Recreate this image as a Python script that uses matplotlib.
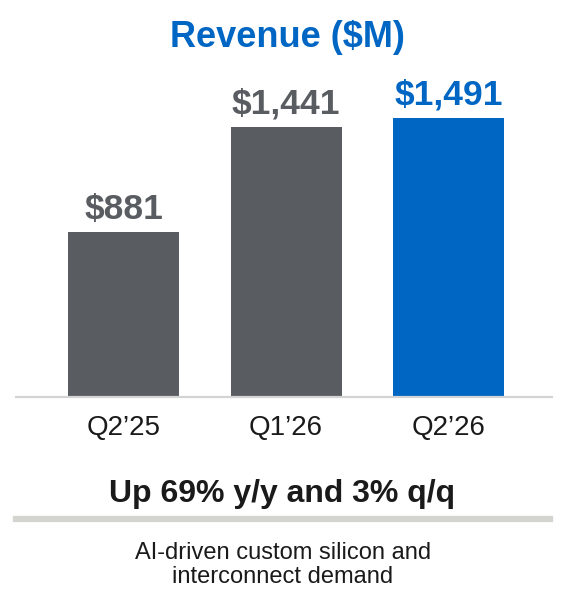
"""Revenue bar chart, three quarters, last one highlighted."""

import matplotlib
matplotlib.use('Agg')
import matplotlib.pyplot as plt

plt.rcParams['font.family'] = ['Liberation Sans', 'DejaVu Sans']

quarters = ["Q2\u201925", "Q1\u201926", "Q2\u201926"]
revenue = [881, 1441, 1491]
value_labels = ["$881", "$1,441", "$1,491"]

GRAY = '#595c60'
BLUE = '#0066c4'
TEXT = '#1a1a1a'
colors = [GRAY, GRAY, BLUE]

W, H = 568, 595
fig = plt.figure(figsize=(W / 100, H / 100), dpi=100, facecolor='white')

# axes spans from the baseline rule (y=397px) up to y=60px
ax = fig.add_axes([16 / W, 1 - 397 / H, 536 / W, 337 / H])
ax.bar(range(len(revenue)), revenue, width=0.683, color=colors, zorder=2)
ax.set_xlim(-0.662, 2.637)
ax.set_ylim(0, 337 / 0.1873)

for i, (v, lab) in enumerate(zip(revenue, value_labels)):
    ax.annotate(lab, (i, v), xytext=(0, 9.5), textcoords='offset points',
                ha='center', va='baseline', fontsize=25.5, fontweight='bold',
                color=colors[i])

ax.set_xticks(range(len(quarters)))
ax.set_xticklabels(quarters, fontsize=20, color=TEXT)
ax.tick_params(axis='x', length=0, pad=13)
ax.set_yticks([])
for side in ['top', 'left', 'right']:
    ax.spines[side].set_visible(False)
ax.spines['bottom'].set_color('#d4d4d4')
ax.spines['bottom'].set_linewidth(1.6)

fig.text(287 / W, 1 - 47 / H, 'Revenue ($M)', ha='center', va='baseline',
         fontsize=26, fontweight='bold', color=BLUE)

fig.text(282 / W, 1 - 502 / H, 'Up 69% y/y and 3% q/q', ha='center',
         va='baseline', fontsize=23, fontweight='bold', color=TEXT)

# thick grey rule under the headline
fig.add_artist(plt.Line2D([16 / W, 550 / W], [1 - 519 / H, 1 - 519 / H],
                          color='#d3d3cf', linewidth=4.5))

fig.text(283 / W, 1 - 559 / H, 'AI-driven custom silicon and',
         ha='center', va='baseline', fontsize=17, color=TEXT)
fig.text(283 / W, 1 - 583 / H, 'interconnect demand',
         ha='center', va='baseline', fontsize=17, color=TEXT)

fig.savefig('out.png', dpi=100, facecolor='white')
